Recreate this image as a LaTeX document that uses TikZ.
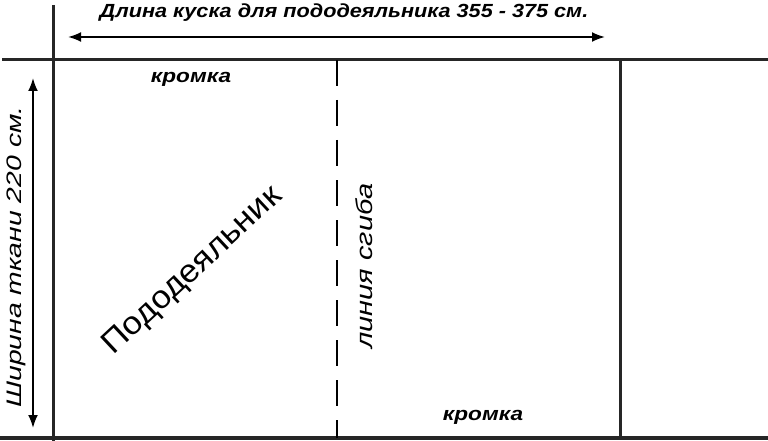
\documentclass[tikz,border=0pt]{standalone}
\usepackage{fontspec}
\setmainfont{Liberation Sans}
\usetikzlibrary{arrows.meta}
\begin{document}
\begin{tikzpicture}[x=1pt,y=-1pt,
  frame/.style={line width=3pt,black!85},
  dimarrow/.style={line width=2pt,{Latex[length=13pt,width=10pt]}-{Latex[length=13pt,width=10pt]}},
  foldline/.style={line width=2.5pt,dash pattern=on 26pt off 14pt},
  lbl/.style={inner sep=0pt,anchor=center}]
\useasboundingbox (0,0) rectangle (768,441);
% frame coordinates
\coordinate (lvt) at (53,5);
\coordinate (lvb) at (53,441);
\coordinate (tl) at (2,60);
\coordinate (tr) at (768,60);
\coordinate (bl) at (0,438);
\coordinate (br) at (768,438);
\coordinate (rvt) at (620,60);
\coordinate (rvb) at (620,438);
\coordinate (dt) at (337,60);
\coordinate (db) at (337,438);
\coordinate (ha) at (68,37);
\coordinate (hb) at (605,37);
\coordinate (va) at (33,78);
\coordinate (vb) at (33,428);
\draw[frame] (lvt) -- (lvb);
\draw[frame] (tl) -- (tr);
\draw[frame,line width=4pt] (bl) -- (br);
\draw[frame] (rvt) -- (rvb);
\draw[foldline] (dt) -- (db);
\draw[dimarrow] (ha) -- (hb);
\draw[dimarrow] (va) -- (vb);
% texts
\node[lbl,font=\fontsize{19}{19}\selectfont\bfseries\itshape] (len) at (344,13) {\scalebox{1.14}[1]{Длина куска для пододеяльника 355 - 375 см.}};
\node[lbl,font=\fontsize{19}{19}\selectfont\bfseries\itshape] (k1) at (191,79) {\scalebox{1.19}[1]{кромка}};
\node[lbl,font=\fontsize{19}{19}\selectfont\bfseries\itshape] (k2) at (483,417) {\scalebox{1.19}[1]{кромка}};
\node[lbl,font=\fontsize{32}{32}\selectfont,rotate=43] (pod) at (193,271) {\scalebox{1.08}[1]{Пододеяльник}};
\node[lbl,font=\fontsize{23}{23}\selectfont\itshape,rotate=90] (fold) at (364,266) {\scalebox{1.26}[1]{линия сгиба}};
\node[lbl,font=\fontsize{21}{21}\selectfont\itshape,rotate=90] (wid) at (16,257) {\scalebox{1.35}[1]{Ширина ткани 220 см.}};
\end{tikzpicture}
\end{document}
